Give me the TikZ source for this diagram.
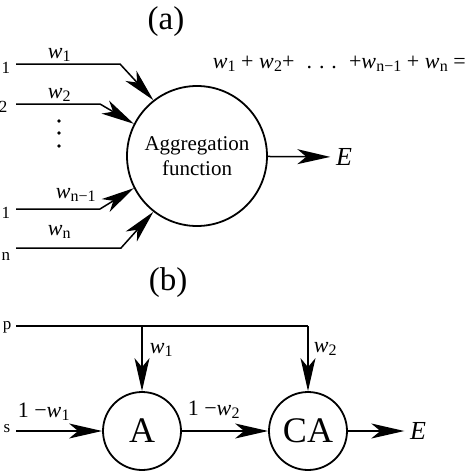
\documentclass[tikz,border=0pt]{standalone}
\usepackage{fontspec}
\setmainfont{Liberation Serif}
\usetikzlibrary{arrows.meta}
\newcommand{\fsz}[1]{\fontsize{#1}{#1}\selectfont}
\newcommand{\wi}[1]{\textit{w}\kern0.3pt\raisebox{-3.5pt}{\fsz{16}#1}}
\begin{document}
\begin{tikzpicture}[x=1pt,y=-1pt,
  line width=1.5pt,
  arr/.style={-{Stealth[length=33pt,width=15pt,inset=9pt]}},
  circ/.style={circle,draw,line width=1.8pt,inner sep=0pt},
  lbl/.style={font=\fsz{22},inner sep=0pt},
  subl/.style={font=\fsz{17},inner sep=0pt},
  ttl/.style={font=\fsz{33},inner sep=0pt},
  elbl/.style={font=\fsz{26}\itshape,inner sep=5pt}]
\useasboundingbox (0,0) rectangle (474,474);
% ---------- (a)
\node[ttl] (ta) at (166,22) {(a)};
\node[circ,minimum size=140pt,align=center,font=\fontsize{21}{25}\selectfont] (agg) at (197,156) {Aggregation\\function};
\coordinate (i1) at (16,64);  \coordinate (b1) at (120,64);
\coordinate (i2) at (16,104); \coordinate (b2) at (100,104);
\coordinate (i3) at (16,209); \coordinate (b3) at (100,209);
\coordinate (i4) at (16,248); \coordinate (b4) at (121,248);
\draw[arr] (i1) -- (b1) -- (agg.128);
\draw[arr] (i2) -- (b2) -- (agg.153);
\draw[arr] (i3) -- (b3) -- (agg.207);
\draw[arr] (i4) -- (b4) -- (agg.232);
\node[lbl,anchor=base west] (lw1) at (47,58) {\wi{1}};
\node[lbl,anchor=base west] (lw2) at (47,98) {\wi{2}};
\node[lbl,anchor=base west] (lw3) at (55,198) {\wi{n−1}};
\node[lbl,anchor=base west] (lw4) at (47,235) {\wi{n}};
\node[subl] (s1) at (6,68) {1};
\node[subl] (s2) at (3,107) {2};
\node[subl] (s3) at (6,213) {1};
\node[subl] (s4) at (6,256) {n};
\fill (59,121) circle (1.9pt) (59,133) circle (1.9pt) (59,146) circle (1.9pt);
\node[elbl] (E1) at (344,157) {E};
\draw[arr] (agg) -- (E1);
\node[lbl,anchor=base west] (sum) at (212,68) {\wi{1} + \wi{2}+\hspace{12pt}.\hspace{7pt}.\hspace{7pt}.\hspace{12pt}+\wi{n−1} + \wi{n} =};
% ---------- (b)
\node[ttl] (tb) at (168,283) {(b)};
\node[circ,minimum size=78pt,font=\fsz{36}] (A) at (142,431) {A};
\node[circ,minimum size=78pt,font=\fsz{36}] (CA) at (308,431) {CA};
\coordinate (ip) at (16,326);
\coordinate (ja) at (142,326);
\coordinate (jc) at (308,326);
\coordinate (is) at (16,431);
\draw (ip) -- (jc);
\draw[arr] (ja) -- (A);
\draw[arr] (jc) -- (CA);
\draw[arr] (is) -- (A);
\draw[arr] (A) -- (CA);
\node[elbl] (E2) at (418,431) {E};
\draw[arr] (CA) -- (E2);
\node[lbl,anchor=base west] (lwb1) at (149,353) {\wi{1}};
\node[lbl,anchor=base west] (lwb2) at (313,352) {\wi{2}};
\node[lbl,anchor=base west] (l1w1) at (17,417) {1 −\wi{1}};
\node[lbl,anchor=base west] (l1w2) at (187,415) {1 −\wi{2}};
\node[subl] (sp) at (7,327) {p};
\node[subl] (ss) at (7,429) {s};
\end{tikzpicture}
\end{document}
